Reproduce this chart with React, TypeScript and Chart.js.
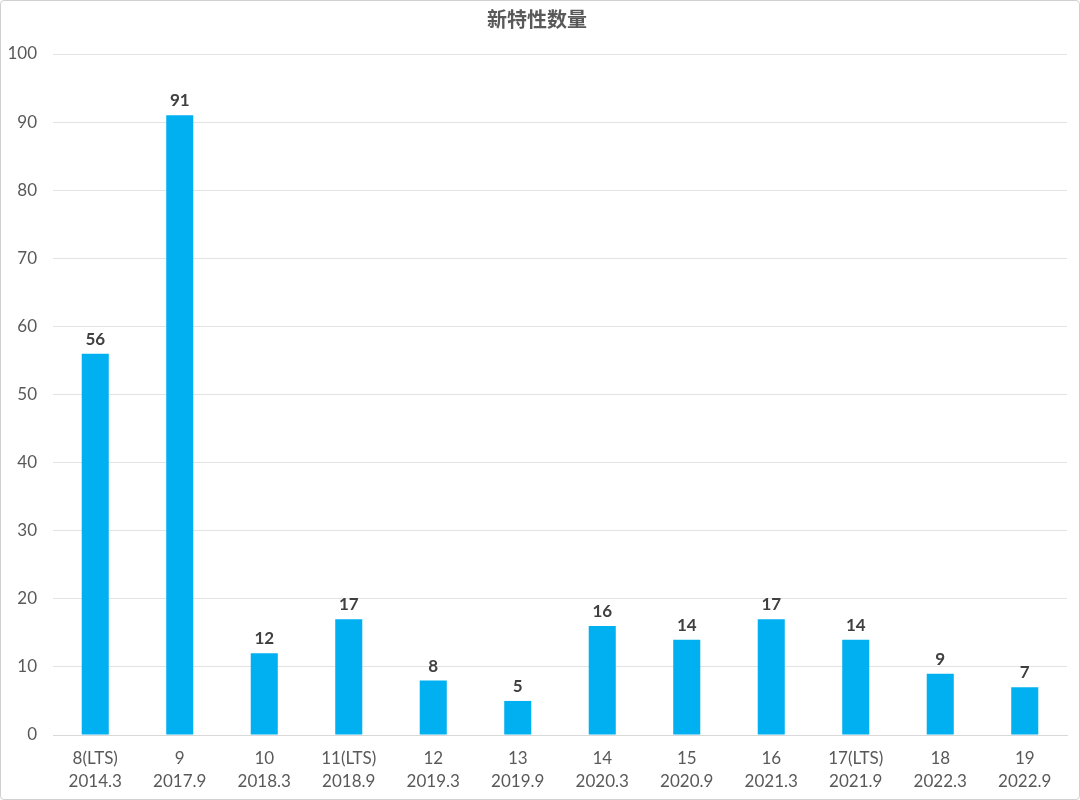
import React, { useEffect, useRef } from "react";
import { Chart, registerables } from "chart.js";

Chart.register(...registerables);

const versions = ["8(LTS)", "9", "10", "11(LTS)", "12", "13", "14", "15", "16", "17(LTS)", "18", "19"];
const releaseDates = ["2014.3", "2017.9", "2018.3", "2018.9", "2019.3", "2019.9", "2020.3", "2020.9", "2021.3", "2021.9", "2022.3", "2022.9"];
const featureCounts = [56, 91, 12, 17, 8, 5, 16, 14, 17, 14, 9, 7];
const chartTitle = "新特性数量";

const FONT = "Lato, 'Noto Sans CJK SC', sans-serif";

const dataLabelPlugin = {
  id: "dataLabels",
  afterDatasetsDraw(chart: any) {
    const ctx = chart.ctx;
    const meta = chart.getDatasetMeta(0);
    const data = chart.data.datasets[0].data;
    ctx.save();
    ctx.font = `bold 17px ${FONT}`;
    ctx.fillStyle = "#404040";
    ctx.textAlign = "center";
    ctx.textBaseline = "bottom";
    meta.data.forEach((bar: any, i: number) => {
      ctx.fillText(String(data[i]), bar.x, bar.y - 6);
    });
    ctx.restore();
  },
};

export default function App() {
  const ref = useRef<HTMLCanvasElement | null>(null);
  useEffect(() => {
    document.body.style.margin = "0";
    const chart = new Chart(ref.current!, {
      type: "bar",
      data: {
        labels: versions.map((v, i) => [v, releaseDates[i]]),
        datasets: [
          {
            data: featureCounts,
            backgroundColor: "#00B0F0",
            barPercentage: 0.32,
            categoryPercentage: 1,
          },
        ],
      },
      options: {
        animation: false,
        responsive: false,
        layout: { padding: { left: 6, right: 12, top: 0, bottom: 0 } },
        plugins: {
          legend: { display: false },
          tooltip: { enabled: false },
          title: {
            display: true,
            text: chartTitle,
            color: "#595959",
            font: { family: FONT, size: 20, weight: "bold" },
            padding: { top: 8, bottom: 21 },
          },
        },
        scales: {
          x: {
            grid: { display: false, drawTicks: false },
            border: { color: "#d9d9d9" },
            afterFit: (s: any) => {
              s.height = 64;
            },
            ticks: {
              color: "#595959",
              font: { family: FONT, size: 17, lineHeight: 1.35 },
              padding: 12,
              maxRotation: 0,
              autoSkip: false,
            },
          },
          y: {
            min: 0,
            max: 100,
            grid: { color: "#e3e3e3", drawTicks: false },
            border: { display: false },
            afterFit: (s: any) => {
              s.width = 46;
            },
            ticks: {
              stepSize: 10,
              color: "#595959",
              font: { family: FONT, size: 17 },
              padding: 16,
            },
          },
        },
      },
      plugins: [dataLabelPlugin],
    });
    return () => chart.destroy();
  }, []);
  return (
    <div
      style={{
        position: "absolute",
        left: 0,
        top: 0,
        width: 1080,
        height: 800,
        boxSizing: "border-box",
        border: "1px solid #d0d0d0",
        borderRadius: 4,
        background: "#fff",
        overflow: "hidden",
      }}
    >
      <canvas ref={ref} width={1078} height={798} style={{ display: "block" }} />
    </div>
  );
}
